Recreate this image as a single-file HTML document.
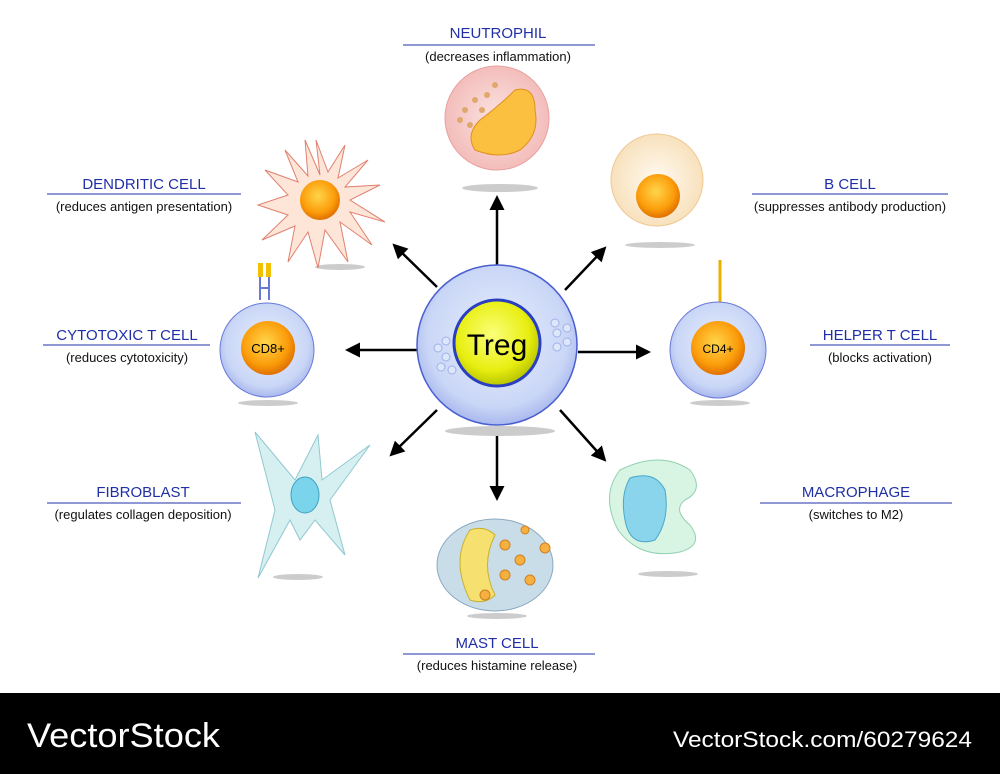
<!DOCTYPE html>
<html><head><meta charset="utf-8"><style>
html,body{margin:0;padding:0;background:#fff}
svg{display:block}
.t{font-family:"Liberation Sans",sans-serif;font-size:15px;fill:#1f2fa8;text-anchor:middle}
.s{font-family:"Liberation Sans",sans-serif;font-size:13px;fill:#111;text-anchor:middle}
.ln{stroke:#1f2fa8;stroke-width:1}
.ar{stroke:#000;stroke-width:2.5;marker-end:url(#ah)}
.sh{fill:#ccc}
</style></head><body>
<svg width="1000" height="774" viewBox="0 0 1000 774" xmlns="http://www.w3.org/2000/svg">
<defs>
<marker id="ah" markerWidth="6" markerHeight="6" refX="4" refY="3" orient="auto"><path d="M0,0 L6,3 L0,6 z" fill="#000"/></marker>
<radialGradient id="cb" cx="50%" cy="45%" r="55%"><stop offset="0" stop-color="#e8eefc"/><stop offset="0.8" stop-color="#c9d6f6"/><stop offset="1" stop-color="#a9b8ee"/></radialGradient>
<radialGradient id="yl" cx="45%" cy="40%" r="60%"><stop offset="0" stop-color="#fbff7a"/><stop offset="0.7" stop-color="#e8ee10"/><stop offset="1" stop-color="#b8c400"/></radialGradient>
<radialGradient id="or" cx="45%" cy="40%" r="60%"><stop offset="0" stop-color="#ffd54a"/><stop offset="0.7" stop-color="#fb9c0a"/><stop offset="1" stop-color="#e07000"/></radialGradient>
<radialGradient id="pk" cx="50%" cy="50%" r="55%"><stop offset="0" stop-color="#fbe4e2"/><stop offset="1" stop-color="#f2b9b7"/></radialGradient>
<radialGradient id="cr" cx="50%" cy="50%" r="55%"><stop offset="0" stop-color="#fffaf0"/><stop offset="1" stop-color="#f7dfb8"/></radialGradient>
</defs>
<rect width="1000" height="774" fill="#fff"/>

<line class="ar" x1="497" y1="265" x2="497" y2="200"/>
<line class="ar" x1="437" y1="287" x2="396" y2="247"/>
<line class="ar" x1="417" y1="350" x2="350" y2="350"/>
<line class="ar" x1="578" y1="352" x2="646" y2="352"/>
<line class="ar" x1="565" y1="290" x2="603" y2="250"/>
<line class="ar" x1="437" y1="410" x2="393" y2="453"/>
<line class="ar" x1="497" y1="432" x2="497" y2="496"/>
<line class="ar" x1="560" y1="410" x2="603" y2="458"/>

<ellipse class="sh" cx="500" cy="431" rx="55" ry="5"/>
<circle cx="497" cy="345" r="80" fill="url(#cb)" stroke="#4a5fd0" stroke-width="1.5"/>
<circle cx="497" cy="343" r="43" fill="url(#yl)" stroke="#2a3fc0" stroke-width="3"/>
<text x="497" y="355" font-family="Liberation Sans,sans-serif" font-size="30" text-anchor="middle" fill="#000">Treg</text>
<g fill="#dde6fb" stroke="#9fb0e8"><circle cx="438" cy="348" r="4"/><circle cx="446" cy="341" r="4"/><circle cx="446" cy="357" r="4"/><circle cx="441" cy="367" r="4"/><circle cx="452" cy="370" r="4"/><circle cx="555" cy="323" r="4"/><circle cx="567" cy="328" r="4"/><circle cx="557" cy="333" r="4"/><circle cx="567" cy="342" r="4"/><circle cx="557" cy="347" r="4"/></g>

<ellipse class="sh" cx="500" cy="188" rx="38" ry="4"/>
<circle cx="497" cy="118" r="52" fill="url(#pk)" stroke="#e8a0a0"/>
<path d="M480,120 Q500,105 515,90 Q535,85 535,110 Q540,135 520,150 Q500,160 475,150 Q465,135 480,120z" fill="#fbc040" stroke="#e09020"/>
<g fill="#e0a86a"><circle cx="465" cy="110" r="3"/><circle cx="475" cy="100" r="3"/><circle cx="487" cy="95" r="3"/><circle cx="470" cy="125" r="3"/><circle cx="460" cy="120" r="3"/><circle cx="482" cy="110" r="3"/><circle cx="495" cy="85" r="3"/></g>

<ellipse class="sh" cx="340" cy="267" rx="25" ry="3"/>
<path d="M320,175 L316,140 L328,172 L345,145 L338,178 L368,160 L345,187 L380,185 L350,200 L385,222 L350,212 L372,245 L340,222 L348,262 L325,230 L318,268 L308,232 L288,262 L295,226 L262,240 L288,215 L258,205 L288,195 L265,170 L298,182 L285,150 L308,176 L305,140 Z" fill="#fde6d8" stroke="#e08070"/>
<circle cx="320" cy="200" r="20" fill="url(#or)"/>

<ellipse class="sh" cx="660" cy="245" rx="35" ry="3"/>
<circle cx="657" cy="180" r="46" fill="url(#cr)" stroke="#f0c890"/>
<circle cx="658" cy="196" r="22" fill="url(#or)"/>

<ellipse class="sh" cx="268" cy="403" rx="30" ry="3"/>
<rect x="258" y="263" width="5" height="14" fill="#f2c000"/><rect x="266" y="263" width="5" height="14" fill="#f2c000"/>
<path d="M260,277 V300 M269,277 V300 M260,288 H269" stroke="#6a78d8" stroke-width="2" fill="none"/>
<circle cx="267" cy="350" r="47" fill="url(#cb)" stroke="#6a7ad8"/>
<circle cx="268" cy="348" r="27" fill="url(#or)"/>
<text x="268" y="353" font-family="Liberation Sans,sans-serif" font-size="13" text-anchor="middle" fill="#000">CD8+</text>

<ellipse class="sh" cx="720" cy="403" rx="30" ry="3"/>
<line x1="720" y1="260" x2="720" y2="302" stroke="#e8b000" stroke-width="3"/>
<circle cx="718" cy="350" r="48" fill="url(#cb)" stroke="#6a7ad8"/>
<circle cx="718" cy="348" r="27" fill="url(#or)"/>
<text x="718" y="353" font-family="Liberation Sans,sans-serif" font-size="12" text-anchor="middle" fill="#000">CD4+</text>

<ellipse class="sh" cx="298" cy="577" rx="25" ry="3"/>
<path d="M255,432 L295,480 L318,435 L322,480 L370,445 L330,500 L345,555 L315,520 L300,540 L290,520 L258,578 L275,510 Z" fill="#d6f0f2" stroke="#90c8d0"/>
<ellipse cx="305" cy="495" rx="14" ry="18" fill="#7ad4ec" stroke="#40a0c0"/>

<ellipse class="sh" cx="497" cy="616" rx="30" ry="3"/>
<ellipse cx="495" cy="565" rx="58" ry="46" fill="#c8dde8" stroke="#8aa8c0"/>
<path d="M470,530 Q450,560 470,600 Q485,605 495,595 Q480,565 495,535 Q485,525 470,530z" fill="#f6e070" stroke="#c8b030"/>
<g fill="#f5b040" stroke="#d08020"><circle cx="505" cy="545" r="5"/><circle cx="520" cy="560" r="5"/><circle cx="545" cy="548" r="5"/><circle cx="505" cy="575" r="5"/><circle cx="530" cy="580" r="5"/><circle cx="485" cy="595" r="5"/><circle cx="525" cy="530" r="4"/></g>

<ellipse class="sh" cx="668" cy="574" rx="30" ry="3"/>
<path d="M620,470 Q660,450 690,470 Q705,490 685,500 Q672,510 690,525 Q705,545 680,552 Q640,560 618,530 Q600,495 620,470z" fill="#d8f4e2" stroke="#90d0b0"/>
<path d="M630,478 Q655,470 665,490 Q670,520 655,540 Q630,548 625,520 Q620,495 630,478z" fill="#8ad4ec" stroke="#4aa8c8"/>

<text class="t" x="498" y="38">NEUTROPHIL</text><line class="ln" x1="403" y1="45" x2="595" y2="45"/><text class="s" x="498" y="61">(decreases inflammation)</text>
<text class="t" x="144" y="189">DENDRITIC CELL</text><line class="ln" x1="47" y1="194" x2="241" y2="194"/><text class="s" x="144" y="211">(reduces antigen presentation)</text>
<text class="t" x="850" y="189">B CELL</text><line class="ln" x1="752" y1="194" x2="948" y2="194"/><text class="s" x="850" y="211">(suppresses antibody production)</text>
<text class="t" x="127" y="340">CYTOTOXIC T CELL</text><line class="ln" x1="43" y1="345" x2="210" y2="345"/><text class="s" x="127" y="362">(reduces cytotoxicity)</text>
<text class="t" x="880" y="340">HELPER T CELL</text><line class="ln" x1="810" y1="345" x2="950" y2="345"/><text class="s" x="880" y="362">(blocks activation)</text>
<text class="t" x="143" y="497">FIBROBLAST</text><line class="ln" x1="47" y1="503" x2="241" y2="503"/><text class="s" x="143" y="519">(regulates collagen deposition)</text>
<text class="t" x="856" y="497">MACROPHAGE</text><line class="ln" x1="760" y1="503" x2="952" y2="503"/><text class="s" x="856" y="519">(switches to M2)</text>
<text class="t" x="497" y="648">MAST CELL</text><line class="ln" x1="403" y1="654" x2="595" y2="654"/><text class="s" x="497" y="670">(reduces histamine release)</text>

<rect x="0" y="693" width="1000" height="81" fill="#000"/>
<text x="27" y="747" font-family="Liberation Sans,sans-serif" font-size="34" fill="#fff" textLength="193" lengthAdjust="spacingAndGlyphs">VectorStock</text>
<text x="673" y="747" font-family="Liberation Sans,sans-serif" font-size="22" fill="#fff" textLength="299" lengthAdjust="spacingAndGlyphs">VectorStock.com/60279624</text>
</svg>
</body></html>
